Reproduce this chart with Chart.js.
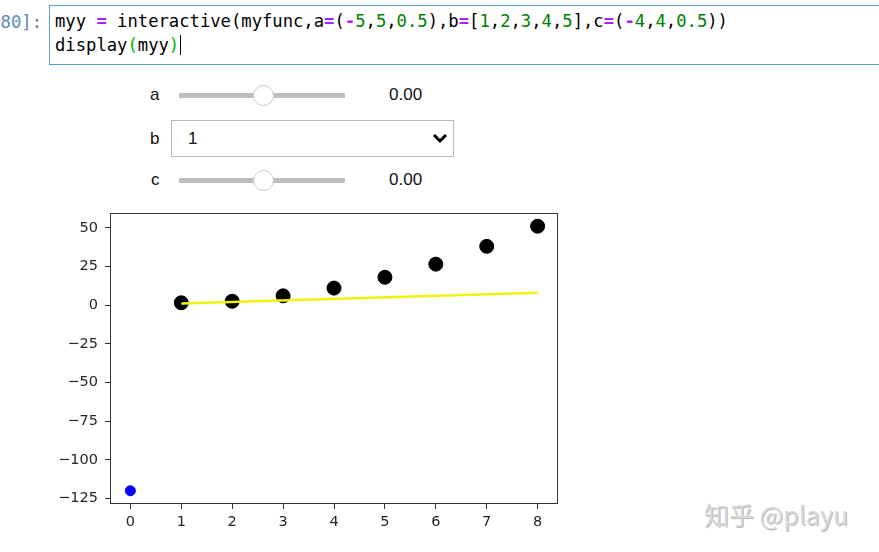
<!DOCTYPE html>
<html>
<head>
<meta charset="utf-8">
<script src="https://cdn.jsdelivr.net/npm/chart.js@4.4.0/dist/chart.umd.min.js"></script>
<style>
  body { margin: 0; width: 879px; height: 552px; background: #fff; overflow: hidden; position: relative; }
  .abs { position: absolute; }
  .code { font-family: "DejaVu Sans Mono", monospace; font-size: 17.2px; line-height: 24px; white-space: pre; color: #000; }
  .op { color: #aa22ff; font-weight: bold; }
  .num { color: #008000; }
  .br { color: #00bb00; }
  .prompt { font-family: "DejaVu Sans Mono", monospace; font-size: 17.2px; color: #5a88b8; white-space: pre; }
  .wlabel { font-family: "Liberation Sans", Arial, sans-serif; font-size: 17px; color: #111; line-height: 20px; }
  .track { height: 5px; background: #bdbdbd; border-radius: 1px; }
  .knob { width: 19px; height: 19px; border-radius: 50%; background: #fff; border: 1px solid #c8c8c8; }
  .mark { font-family: "Noto Sans CJK SC", "Noto Sans", sans-serif; font-size: 25px; color: #d8d8d8; text-shadow: 1px 1px 0 #bbbbbb; white-space: pre; }
</style>
</head>
<body>
<!-- code cell -->
<div class="abs prompt" style="right:837px; top:10px; line-height:24px;">In [80]:</div>
<div class="abs" style="left:49px; top:5px; width:900px; height:58px; border:1px solid #5a9bd0;"></div>
<div class="abs code" style="left:55px; top:9px;">myy <span class="op">=</span> interactive(myfunc,a<span class="op">=</span>(<span class="op">-</span><span class="num">5</span>,<span class="num">5</span>,<span class="num">0.5</span>),b<span class="op">=</span>[<span class="num">1</span>,<span class="num">2</span>,<span class="num">3</span>,<span class="num">4</span>,<span class="num">5</span>],c<span class="op">=</span>(<span class="op">-</span><span class="num">4</span>,<span class="num">4</span>,<span class="num">0.5</span>))
display<span class="br">(</span>myy<span class="br">)</span><span style="border-left:1px solid #000; margin-left:1px;"></span></div>

<!-- widgets -->
<div class="abs wlabel" style="left:150px; top:85px;">a</div>
<div class="abs track" style="left:179px; top:93px; width:166px;"></div>
<div class="abs knob" style="left:253px; top:85px;"></div>
<div class="abs wlabel" style="left:389px; top:85px;">0.00</div>

<div class="abs wlabel" style="left:150px; top:129px;">b</div>
<div class="abs" style="left:171px; top:120px; width:281px; height:35px; border:1px solid #b8b8b8;"></div>
<div class="abs wlabel" style="left:188px; top:129px;">1</div>
<svg class="abs" style="left:432px; top:132px;" width="16" height="12"><polyline points="2,3 8,9 14,3" fill="none" stroke="#000" stroke-width="3"/></svg>

<div class="abs wlabel" style="left:151px; top:170px;">c</div>
<div class="abs track" style="left:179px; top:178px; width:166px;"></div>
<div class="abs knob" style="left:253px; top:170px;"></div>
<div class="abs wlabel" style="left:389px; top:170px;">0.00</div>

<!-- figure -->
<canvas id="plot" class="abs" style="left:40px; top:200px;" width="540" height="340"></canvas>

<div class="abs mark" style="left:704px; top:496px;">知乎 @playu</div>

<script>
// observed points (black)
const xs = [1, 2, 3, 4, 5, 6, 7, 8];
const ys = [1.5, 2.5, 6, 11, 18, 26.5, 38, 51];
// fitted line (yellow)
const fitX = [1, 8];
const fitY = [1, 8];
// single blue point
const predX = [0];
const predY = [-120];

const xTicks = [0, 1, 2, 3, 4, 5, 6, 7, 8];
const yTicks = [-125, -100, -75, -50, -25, 0, 25, 50];
const yTickLabels = ["\u2212125", "\u2212100", "\u221275", "\u221250", "\u221225", "0", "25", "50"];

const toPoints = (a, b) => a.map((v, i) => ({ x: v, y: b[i] }));

const framePlugin = {
  id: "frame",
  afterDraw(chart) {
    const { ctx, chartArea } = chart;
    ctx.save();
    ctx.strokeStyle = "#333";
    ctx.lineWidth = 1;
    ctx.strokeRect(chartArea.left + 0.5, chartArea.top + 0.5,
      chartArea.right - chartArea.left - 1, chartArea.bottom - chartArea.top - 1);
    ctx.restore();
  }
};

const tickFont = { family: "'DejaVu Sans', sans-serif", size: 14.5 };

new Chart(document.getElementById("plot"), {
  type: "scatter",
  data: {
    datasets: [
      {
        label: "fit",
        type: "line",
        data: toPoints(fitX, fitY),
        borderColor: "#f2f20f",
        borderWidth: 2.5,
        pointRadius: 0,
        fill: false,
        order: 0
      },
      {
        label: "data",
        data: toPoints(xs, ys),
        backgroundColor: "#000",
        borderColor: "#000",
        pointRadius: 7,
        order: 1
      },
      {
        label: "pred",
        data: toPoints(predX, predY),
        backgroundColor: "#0000ff",
        borderColor: "#0000ff",
        pointRadius: 5,
        order: 2
      }
    ]
  },
  options: {
    responsive: false,
    devicePixelRatio: 1,
    animation: false,
    layout: { padding: { left: 0, top: 13, right: 22, bottom: 0 } },
    plugins: { legend: { display: false }, tooltip: { enabled: false } },
    scales: {
      x: {
        type: "linear",
        min: -0.4,
        max: 8.4,
        afterBuildTicks: scale => { scale.ticks = xTicks.map(v => ({ value: v })); },
        afterFit: scale => {
          scale.height = 36;
          scale.paddingLeft = 0;
          scale.paddingRight = 0;
        },
        border: { display: false },
        grid: { drawOnChartArea: false, drawTicks: true, tickLength: 5, color: "#333" },
        ticks: { color: "#262626", font: tickFont, padding: 5, maxRotation: 0, callback: v => String(v) }
      },
      y: {
        type: "linear",
        min: -128.55,
        max: 59.55,
        afterBuildTicks: scale => { scale.ticks = yTicks.map(v => ({ value: v })); },
        afterFit: scale => {
          scale.width = 70;
          scale.paddingTop = 0;
          scale.paddingBottom = 0;
        },
        border: { display: false },
        grid: { drawOnChartArea: false, drawTicks: true, tickLength: 5, color: "#333" },
        ticks: {
          color: "#262626",
          font: tickFont,
          padding: 7,
          callback: v => yTickLabels[yTicks.indexOf(v)]
        }
      }
    }
  },
  plugins: [framePlugin]
});
</script>
</body>
</html>
